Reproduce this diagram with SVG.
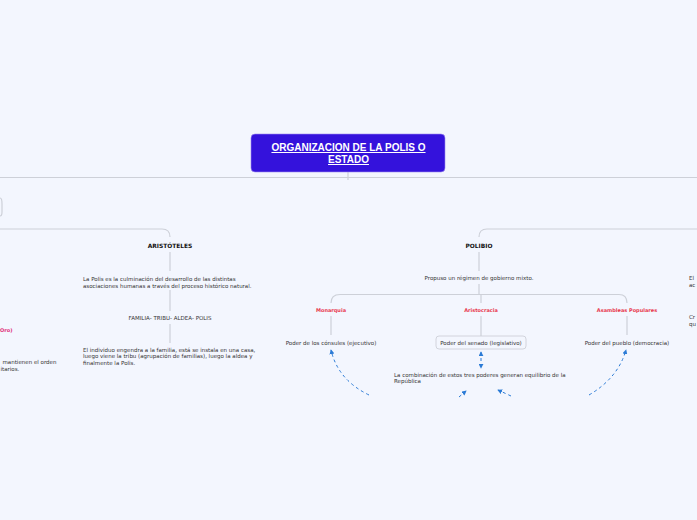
<svg xmlns="http://www.w3.org/2000/svg" width="697" height="520" viewBox="0 0 697 520">
<defs>
<style>
.t{font-family:"DejaVu Sans",Verdana,sans-serif;font-size:5.5px;fill:#333}
.b{font-family:"DejaVu Sans",Verdana,sans-serif;font-size:5.9px;font-weight:bold;fill:#111}
.r{font-family:"DejaVu Sans",Verdana,sans-serif;font-size:5px;font-weight:bold;fill:#e8394e}
.ln{fill:none;stroke:#cdd0d8;stroke-width:1.2}
.dash{fill:none;stroke:#2b7bd6;stroke-width:1;stroke-dasharray:3 3}
</style>
<marker id="ah" viewBox="0 0 6 6" refX="5" refY="3" markerWidth="5" markerHeight="5" orient="auto-start-reverse" markerUnits="userSpaceOnUse">
<path d="M0,0 L6,3 L0,6 Z" fill="#2b7bd6"/>
</marker>
</defs>
<rect width="697" height="520" fill="#f3f6fe"/>
<g id="connectors">
<path class="ln" d="M0,177.5 H697" stroke-width="2"/>
<path class="ln" d="M348,172 V180"/>
<path class="ln" d="M0,198 Q2,198 2,204 V212 Q2,216 0,216"/>
<path class="ln" d="M0,229 H162 Q170,229 170,237"/>
<path class="ln" d="M170,252 V271"/>
<path class="ln" d="M170,290 V311"/>
<path class="ln" d="M170,324 V343"/>
<path class="ln" d="M697,229 H487 Q479,229 479,237"/>
<path class="ln" d="M479,252 V271"/>
<path class="ln" d="M479,284 V294"/>
<path class="ln" d="M331,303 Q331,294.5 340,294.5 H619 Q627,294.5 627,303"/>
<path class="ln" d="M481,295 V303"/>
<path class="ln" d="M331,316 V335"/>
<path class="ln" d="M481,316 V336"/>
<path class="ln" d="M627,316 V335"/>
<path class="dash" d="M369,395 Q338,380 331,350" marker-end="url(#ah)"/>
<path class="dash" d="M481,352 V368" marker-start="url(#ah)" marker-end="url(#ah)"/>
<path class="dash" d="M459,397 L466,391" marker-end="url(#ah)"/>
<path class="dash" d="M511,396 L498,390" marker-end="url(#ah)"/>
<path class="dash" d="M589,395 Q618,378 626,350" marker-end="url(#ah)"/>
</g>
<g id="root">
<rect x="251" y="134" width="194" height="38" rx="4" fill="#3412dc" stroke="#9d8cf0" stroke-width="0.6"/>
<text x="348.5" y="151" text-anchor="middle" font-family="Liberation Sans,Arial,sans-serif" font-size="10" font-weight="bold" fill="#fff" text-decoration="underline">ORGANIZACION DE LA POLIS O</text>
<text x="348.5" y="163" text-anchor="middle" font-family="Liberation Sans,Arial,sans-serif" font-size="10" font-weight="bold" fill="#fff" text-decoration="underline">ESTADO</text>
</g>
<g id="aristoteles"><text class="b" x="170" y="247.5" text-anchor="middle">ARISTÓTELES</text></g>
<g id="polis-culminacion">
<text class="t" x="83" y="281">La Polis es la culminación del desarrollo de las distintas</text>
<text class="t" x="83" y="287.5">asociaciones humanas a través del proceso histórico natural.</text>
</g>
<g id="familia"><text class="t" x="170" y="320" text-anchor="middle">FAMILIA- TRIBU- ALDEA- POLIS</text></g>
<g id="individuo">
<text class="t" x="83" y="351.5">El individuo engendra a la familia, está se instala en una casa,</text>
<text class="t" x="83" y="358">luego viene la tribu (agrupación de familias), luego la aldea y</text>
<text class="t" x="83" y="364.5">finalmente la Polis.</text>
</g>
<g id="left-oro"><text x="0" y="331.5" font-family="DejaVu Sans,Verdana,sans-serif" font-size="5" font-weight="bold" fill="#e0307a">Oro)</text></g>
<g id="left-orden">
<text class="t" x="2.5" y="364">mantienen el orden</text>
<text class="t" x="0.5" y="370.5">itarios.</text>
</g>
<g id="polibio"><text class="b" x="479" y="247.5" text-anchor="middle">POLIBIO</text></g>
<g id="mixto"><text class="t" x="479" y="280" text-anchor="middle">Propuso un régimen de gobierno mixto.</text></g>
<g id="monarquia"><text class="r" x="331" y="312" text-anchor="middle">Monarquia</text></g>
<g id="aristocracia"><text class="r" x="481" y="312" text-anchor="middle">Aristocracia</text></g>
<g id="asambleas"><text class="r" x="627" y="312" text-anchor="middle">Asambleas Populares</text></g>
<g id="consules"><text class="t" x="331" y="345" text-anchor="middle">Poder de los cónsules (ejecutivo)</text></g>
<g id="senado">
<rect x="436" y="336" width="90" height="13" rx="3" fill="#f3f6fe" stroke="#c9ccd4" stroke-width="0.8"/>
<text class="t" x="481" y="345" text-anchor="middle">Poder del senado (legislativo)</text>
</g>
<g id="pueblo"><text class="t" x="627" y="345" text-anchor="middle">Poder del pueblo (democracia)</text></g>
<g id="combinacion">
<text class="t" x="394" y="376.5">La combinación de estos tres poderes generan equilibrio de la</text>
<text class="t" x="394" y="383">República</text>
</g>
<g id="right-el">
<text class="t" x="689" y="280">El</text>
<text class="t" x="689" y="286.5">ac</text>
</g>
<g id="right-cr">
<text class="t" x="689" y="319">Cr</text>
<text class="t" x="689" y="325.5">qu</text>
</g>
</svg>
